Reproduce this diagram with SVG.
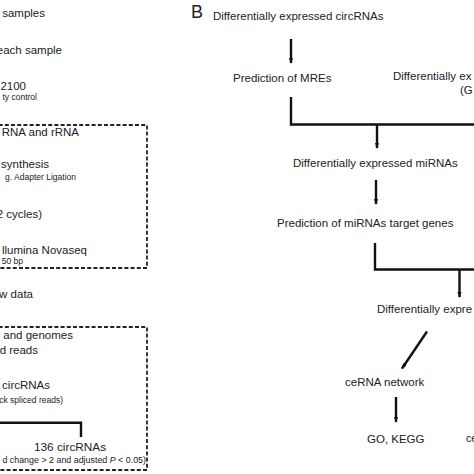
<svg xmlns="http://www.w3.org/2000/svg" width="474" height="474" viewBox="0 0 474 474">
<defs>
<style>
text{font-family:"Liberation Sans",Arial,sans-serif;fill:#222;}
.t{font-size:11.5px;}
.s{font-size:8.5px;}
.e{text-anchor:end;}
.ln{stroke:#111;stroke-width:2.4;fill:none;}
.box{stroke:#222;stroke-width:1.8;fill:none;stroke-dasharray:4 2.2;}
</style>
<marker id="ah" viewBox="0 0 6 6" refX="5" refY="3" markerWidth="6" markerHeight="6" markerUnits="userSpaceOnUse" orient="auto">
<path d="M0,1 L6,3 L0,5 z" fill="#111"/>
</marker>
</defs>
<rect width="474" height="474" fill="#fff"/>

<!-- Panel A (left, cropped) -->
<g id="boxes">
<rect class="box" x="-20" y="125" width="167" height="143"/>
<rect class="box" x="-20" y="327" width="167" height="143"/>
</g>
<g id="a-samples"><text class="t e" x="45" y="17">samples</text></g>
<g id="a-each"><text class="t e" x="62" y="54">each sample</text></g>
<g id="a-2100"><text class="t e" x="26" y="90">2100</text><text class="s e" x="37" y="100">ty control</text></g>
<g id="a-rrna"><text class="t e" x="79" y="136">RNA and rRNA</text></g>
<g id="a-synth"><text class="t e" x="49" y="168">synthesis</text><text class="s e" x="76" y="180">g. Adapter Ligation</text></g>
<g id="a-cycles"><text class="t e" x="42" y="218">2 cycles)</text></g>
<g id="a-illumina"><text class="t e" x="87" y="254">llumina Novaseq</text><text class="s e" x="23" y="264">50 bp</text></g>
<g id="a-raw"><text class="t e" x="33" y="298">w data</text></g>
<g id="a-genomes"><text class="t e" x="73" y="339">and genomes</text><text class="t e" x="38" y="354">d reads</text></g>
<g id="a-circ"><text class="t e" x="50" y="389">circRNAs</text><text class="s e" x="63" y="403">ck spliced reads)</text></g>
<g id="a-136"><text class="t" x="34" y="451" style="font-size:11.8px">136 circRNAs</text>
<text class="s e" x="146" y="463" style="font-size:8.9px">d change &gt; 2 and adjusted <tspan font-style="italic">P</tspan> &lt; 0.05)</text></g>

<!-- Panel B -->
<g id="b-label"><text x="191" y="18" style="font-size:18px">B</text></g>
<g id="b-circ"><text class="t" x="213" y="20">Differentially expressed circRNAs</text></g>
<g id="b-mres"><text class="t" x="233" y="82">Prediction of MREs</text></g>
<g id="b-demrna"><text class="t" x="393" y="80">Differentially ex</text><text class="t" x="460" y="94">(G</text></g>
<g id="b-mirna"><text class="t" x="293" y="167">Differentially expressed miRNAs</text></g>
<g id="b-target"><text class="t" x="277" y="227">Prediction of miRNAs target genes</text></g>
<g id="b-demrna2"><text class="t" x="377" y="313">Differentially expre</text></g>
<g id="b-cerna"><text class="t" x="345" y="386">ceRNA network</text></g>
<g id="b-go"><text class="t" x="367" y="443">GO, KEGG</text></g>
<g id="b-ce"><text class="t" x="466" y="442" style="font-size:10.5px">ce</text></g>

<g id="connectors">
<line class="ln" x1="291" y1="39" x2="291" y2="63" marker-end="url(#ah)"/>
<polyline class="ln" points="291,97 291,124.5 474,124.5"/>
<line class="ln" x1="377" y1="124.5" x2="377" y2="148" marker-end="url(#ah)"/>
<line class="ln" x1="376" y1="180" x2="376" y2="204" marker-end="url(#ah)"/>
<polyline class="ln" points="375,243 375,269.5 474,269.5"/>
<line class="ln" x1="459.5" y1="269.5" x2="459.5" y2="297" marker-end="url(#ah)"/>
<line class="ln" x1="427" y1="331.5" x2="402" y2="368.5" marker-end="url(#ah)"/>
<line class="ln" x1="396" y1="397" x2="396" y2="422" marker-end="url(#ah)"/>
<polyline class="ln" points="0,422.7 81,422.7 81,437"/>
</g>
</svg>
